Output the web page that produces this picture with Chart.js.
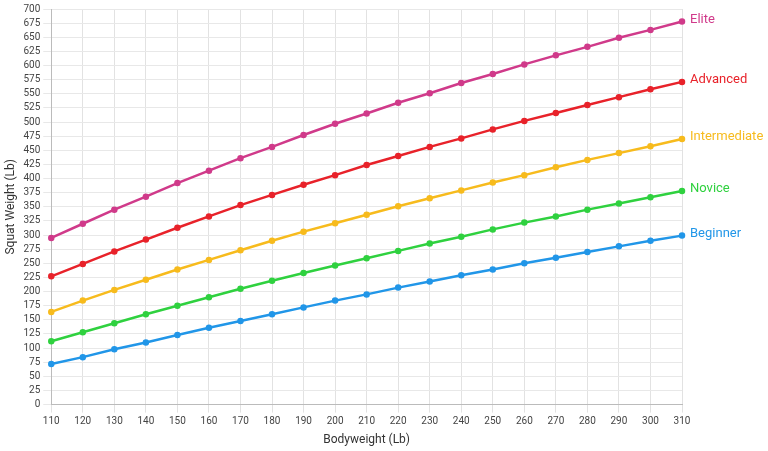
<!DOCTYPE html>
<html><head><meta charset="utf-8">
<script src="https://cdn.jsdelivr.net/npm/chart.js@4"></script>
<style>html,body{margin:0;padding:0;background:#fff}#w{width:768px;height:451px}</style>
</head><body><div id="w"><canvas id="c"></canvas></div>
<script>
const bodyweights = [110,120,130,140,150,160,170,180,190,200,210,220,230,240,250,260,270,280,290,300,310];
const elite = [295,320,345,368,392,414,436,456,477,497,515,534,551,569,585,602,618,633,649,663,678];
const advanced = [227,249,271,292,313,333,353,371,389,406,424,440,456,471,487,502,516,530,544,558,571];
const intermediate = [164,184,203,221,239,256,273,290,306,321,336,351,365,379,393,406,420,433,445,457,470];
const novice = [112,128,144,160,175,190,205,219,233,246,259,272,285,297,310,322,333,345,356,367,378];
const beginner = [72,84,98,110,123,136,148,160,172,184,195,207,218,229,239,250,260,270,280,290,299];
const names = ['Elite','Advanced','Intermediate','Novice','Beginner'];
const colors = ['#d03a8a','#e8222a','#f7bb1d','#2fd13f','#2196e8'];
const series = [elite,advanced,intermediate,novice,beginner];
Chart.defaults.font.family = 'Roboto';
const endLabels = {id:'endLabels',afterDatasetsDraw(ch){const ctx=ch.ctx;ctx.save();ctx.font='13px Roboto';ctx.textBaseline='middle';
 ch.data.datasets.forEach((d,i)=>{const p=ch.getDatasetMeta(i).data[d.data.length-1];ctx.fillStyle=d.borderColor;ctx.fillText(d.label,p.x+8,p.y-2);});ctx.restore();}};
new Chart(document.getElementById('c'),{type:'line',
 data:{labels:bodyweights,datasets:series.map((s,i)=>({label:names[i],data:s,borderColor:colors[i],backgroundColor:colors[i],borderWidth:2.5,pointRadius:2,tension:0}))},
 options:{responsive:true,maintainAspectRatio:false,animation:false,
  layout:{padding:{right:86,top:6,left:0,bottom:0}},
  plugins:{legend:{display:false},tooltip:{enabled:false}},
  scales:{
   x:{title:{display:true,text:'Bodyweight (Lb)',color:'#333',font:{size:12},padding:{top:2}},ticks:{color:'#444',font:{size:10},maxRotation:0,autoSkip:false},grid:{color:'#e2e2e2'},border:{color:'#bbb'}},
   y:{min:0,max:700,title:{display:true,text:'Squat Weight (Lb)',color:'#333',font:{size:12},padding:{bottom:2}},ticks:{stepSize:25,color:'#444',font:{size:10},autoSkip:false},grid:{color:'#e8e8e8'},border:{color:'#bbb'}}
  }},plugins:[endLabels]});
</script></body></html>
